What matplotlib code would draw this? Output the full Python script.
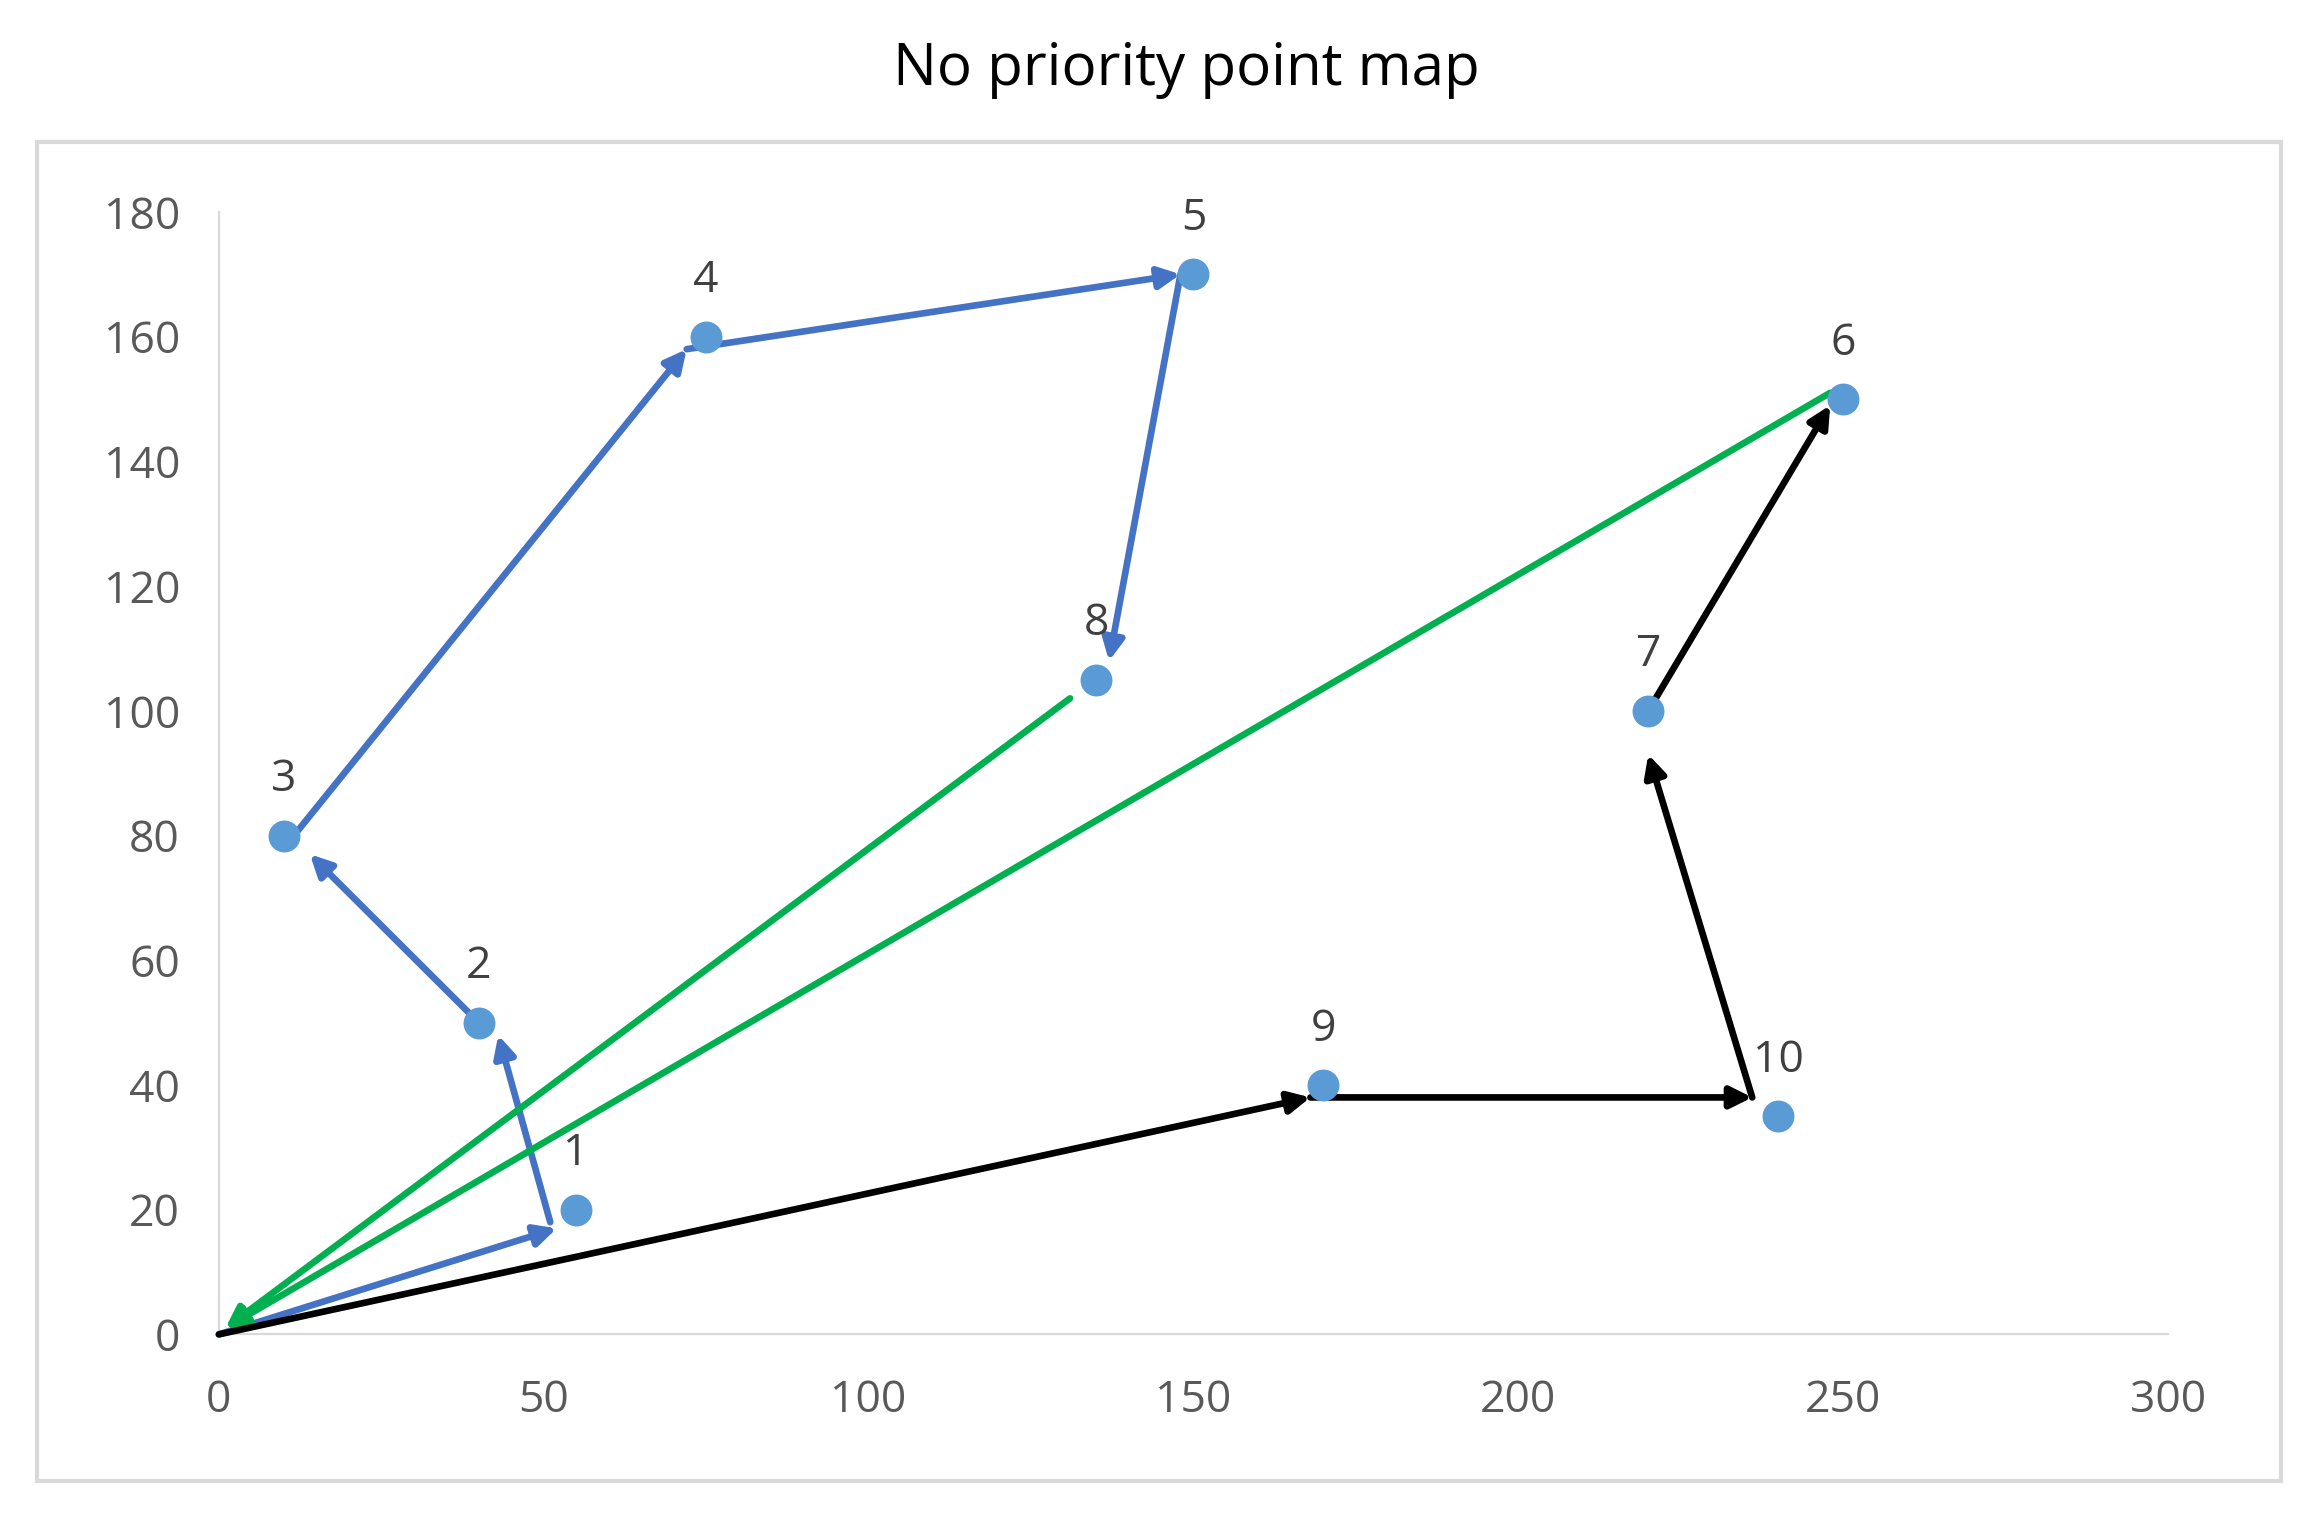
import matplotlib
matplotlib.use('Agg')
import matplotlib.pyplot as plt
from matplotlib.patches import Rectangle

plt.rcParams.update({'font.family': ['Open Sans', 'DejaVu Sans'], 'font.size': 16})

# point coordinates
labels = ['1', '2', '3', '4', '5', '6', '7', '8', '9', '10']
xs = [55, 40, 10, 75, 150, 250, 220, 135, 170, 240]
ys = [20, 50, 80, 160, 170, 150, 100, 105, 40, 35]

# arrow segments: (x0, y0, x1, y1)
blue_segs = [(0, 0, 52, 17), (51, 18, 43, 48), (40, 50, 14, 77), (10, 78, 72, 158),
             (72, 158, 148, 170), (148, 170, 137, 108)]
green_segs = [(131, 102, 1, 1), (248, 151, 1, 1)]
black_segs = [(0, 0, 168, 38), (168, 38, 236, 38), (236, 38, 220, 93), (220, 100, 248, 149)]

fig = plt.figure(figsize=(11.52, 7.625), dpi=200)
fig.patches.append(Rectangle((0.016, 0.029), 0.974, 0.878, transform=fig.transFigure,
                             fill=False, edgecolor='#d9d9d9', lw=1.5))
fig.text(0.515, 0.954, 'No priority point map', ha='center', va='center', fontsize=21)

ax = fig.add_axes([0.095, 0.125, 0.846, 0.736])
ax.set_xlim(0, 300); ax.set_ylim(0, 180)
ax.set_xticks(range(0, 301, 50)); ax.set_yticks(range(0, 181, 20))
for s in ['top', 'right']:
    ax.spines[s].set_visible(False)
for s in ['bottom', 'left']:
    ax.spines[s].set_color('#d9d9d9')
ax.tick_params(length=0, colors='#595959', labelsize=16)
ax.tick_params(axis='x', pad=16)
ax.tick_params(axis='y', pad=14)

def draw(segs, color):
    for x0, y0, x1, y1 in segs:
        ax.annotate('', xy=(x1, y1), xytext=(x0, y0),
                    arrowprops=dict(arrowstyle='-|>', color=color, lw=2.4,
                                    mutation_scale=16, shrinkA=0, shrinkB=0))

draw(blue_segs, '#4472c4')
draw(green_segs, '#00b050')
draw(black_segs, 'black')

ax.scatter(xs, ys, s=110, color='#5b9bd5', zorder=5, clip_on=False)
for l, x, y in zip(labels, xs, ys):
    ax.annotate(l, (x, y), xytext=(0, 12), textcoords='offset points',
                ha='center', va='bottom', fontsize=16, color='#404040')

fig.savefig('out.png', dpi=200, facecolor='white')
